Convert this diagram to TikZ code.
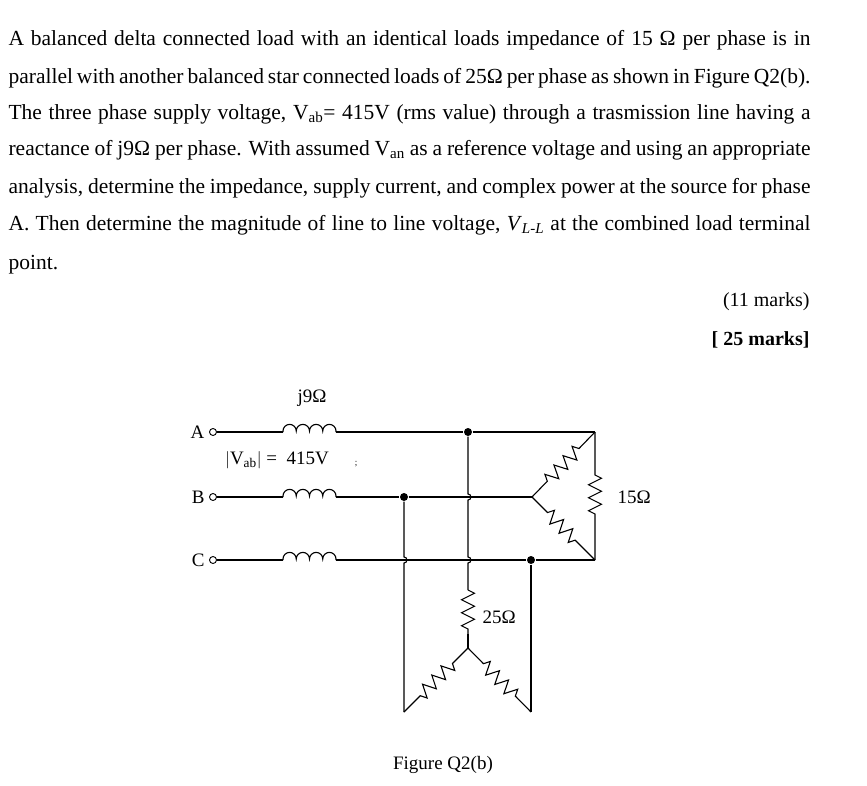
\documentclass[tikz,border=0pt]{standalone}
\usepackage{fontspec}
\setmainfont{Liberation Serif}
\usetikzlibrary{decorations.pathmorphing}
\begin{document}
\begin{tikzpicture}[x=1pt,y=-1pt,line width=1.1pt,
  txt/.style={anchor=west,inner sep=0pt,font=\fontsize{21.5}{23}\selectfont},
  lbl/.style={inner sep=0pt,font=\fontsize{19}{21}\selectfont},
  res/.style={decorate,decoration={zigzag,amplitude=6.5pt,segment length=13pt,pre length=#1,post length=#1}},
  term/.style={circle,draw,fill=white,inner sep=0pt,minimum size=7pt,line width=0.9pt},
  dotn/.style={circle,fill=black,inner sep=0pt,minimum size=8pt}]
\useasboundingbox (0,0) rectangle (867,786);
\def\jl#1{\makebox[802pt][s]{#1}}
\node[txt] (t1) at (8,40) {\jl{A balanced delta connected load with an identical loads impedance of 15 Ω per phase is in}};
\node[txt] (t2) at (8,78) {\jl{parallel with another balanced star connected loads of 25Ω per phase as shown in Figure Q2(b).}};
\node[txt] (t3) at (8,114) {\jl{The three phase supply voltage, V\textsubscript{ab}= 415V (rms value) through a trasmission line having a}};
\node[txt] (t4) at (8,150) {\jl{reactance of j9Ω per phase. With assumed V\textsubscript{an} as a reference voltage and using an appropriate}};
\node[txt] (t5) at (8,188) {\jl{analysis, determine the impedance, supply current, and complex power at the source for phase}};
\node[txt] (t6) at (8,225) {\jl{A. Then determine the magnitude of line to line voltage, \textit{V}\textsubscript{\textit{L-L}} at the combined load terminal}};
\node[txt] (t7) at (8,265) {point.};
\node[lbl,anchor=east,font=\fontsize{20}{22}\selectfont] (m1) at (810,302) {(11 marks)};
\node[lbl,anchor=east,font=\bfseries\fontsize{20}{22}\selectfont] (m2) at (810,340) {[ 25 marks]};
% terminals
\node[term] (A) at (213,432) {};
\node[term] (B) at (213,497) {};
\node[term] (C) at (213,560) {};
\node[lbl,anchor=east] (la) at (205,432) {A};
\node[lbl,anchor=east] (lb) at (205,497) {B};
\node[lbl,anchor=east] (lc) at (205,560) {C};
% inductors
\foreach \n/\y in {a/432,b/497,c/560}{
  \coordinate (i\n1) at (283,\y); \coordinate (i\n2) at (336,\y);
  \draw (i\n1) -- ++(0,-1) arc(180:360:6.625) arc(180:360:6.625) arc(180:360:6.625) arc(180:360:6.625) -- (i\n2);
}
\draw (A) -- (ia1); \draw (B) -- (ib1); \draw (C) -- (ic1);
% junctions
\node[dotn] (ja) at (468,432) {};
\node[dotn] (jb) at (404,497) {};
\node[dotn] (jc) at (531,560) {};
\coordinate (dtr) at (595,432);
\coordinate (dl) at (532,497);
\coordinate (dbr) at (595,560);
\draw (ia2) -- (ja) -- (dtr);
\draw (ib2) -- (jb) -- (dl);
\draw (ic2) -- (jc) -- (dbr);
% delta
\draw[res=43pt] (dtr) -- (dbr);
\draw[res=22pt] (dl) -- (dtr);
\draw[res=22pt] (dl) -- (dbr);
% star
\coordinate (sc) at (468,648);
\coordinate (sl) at (404,712);
\coordinate (sr) at (531,712);
\draw (ja) -- (468,494) arc(-90:90:3) -- (468,557) arc(-90:90:3) -- (468,590);
\draw[res=0pt] (468,590) -- (468,634);
\draw (468,634) -- (sc);
\draw[res=22pt] (sc) -- (sl);
\draw[res=22pt] (sc) -- (sr);
\draw (jb) -- (404,557) arc(-90:90:3) -- (sl);
\draw (jc) -- (sr);
% labels
\node[lbl] (l9) at (312,398) {j9Ω};
\node[lbl] (lv) at (277,460) {$|$V\textsubscript{ab}$|$ = \ 415V};
\node[lbl,font=\fontsize{9}{9}\selectfont] (ls) at (356,464) {;};
\node[lbl,anchor=west] (l15) at (617,497) {15Ω};
\node[lbl,anchor=west] (l25) at (482,617) {25Ω};
\node[lbl] (fig) at (443,765) {Figure Q2(b)};
\end{tikzpicture}
\end{document}
